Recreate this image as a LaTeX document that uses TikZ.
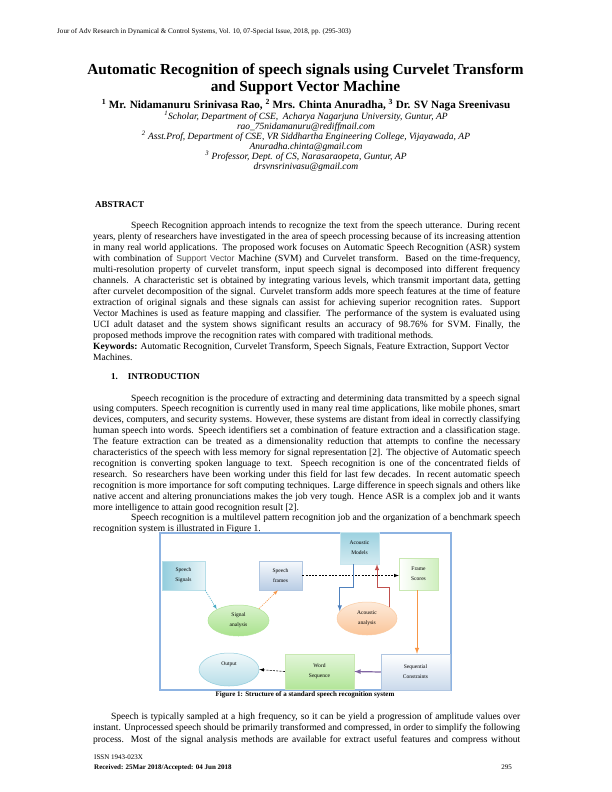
\documentclass[tikz,border=0pt]{standalone}
\usepackage{fontspec}
\setmainfont{Liberation Serif}
\newfontfamily\sansfam{Liberation Sans}
\usetikzlibrary{positioning, arrows, shapes.geometric, calc}

\definecolor{framecol}{HTML}{8DB3E2}
\definecolor{tealline}{HTML}{4BACC6}
\definecolor{orangeline}{HTML}{F79646}
\definecolor{blueline}{HTML}{4F81BD}
\definecolor{redline}{HTML}{C0504D}
\definecolor{purpleline}{HTML}{8064A2}

\newcommand\bodyfont{\fontsize{9.5}{11}\selectfont}
\newcommand\figfont{\fontsize{5.5}{10}\selectfont}
\newcommand\affilfont{\fontsize{9.5}{10}\selectfont\itshape}
\newcommand\justline[1]{\hbox to 427pt{#1}}
\newcommand\openline[1]{\hbox{#1}}

\tikzset{
  body/.style={anchor=base west, inner sep=0pt, font=\bodyfont},
  centred/.style={anchor=base, inner sep=0pt},
  flowbox/.style={rectangle, line width=0.5pt, align=center, font=\figfont, inner sep=1pt},
  flowoval/.style={ellipse, line width=0.5pt, align=center, font=\figfont, inner sep=0pt},
  dotflow/.style={dash pattern=on 1.2pt off 1pt, line width=0.6pt, -latex},
  dashflow/.style={dash pattern=on 2pt off 1.3pt, line width=0.6pt, -latex},
  solidflow/.style={line width=1pt, -latex}
}

\begin{document}
\begin{tikzpicture}[x=1pt, y=-1pt]
  \fill[white] (0,0) rectangle (612,792);
  \useasboundingbox (0,0) rectangle (612,792);

  % HEADER AND TITLE
  \node[anchor=base west, inner sep=0pt, font=\fontsize{7.1}{8}\selectfont] (journal) at (57,34)
    {Jour of Adv Research in Dynamical \& Control Systems, Vol. 10, 07-Special Issue, 2018, pp. (295-303)};
  \node[centred, font=\fontsize{15.3}{17}\selectfont\bfseries] (title1) at (305.5,74.5)
    {Automatic Recognition of speech signals using Curvelet Transform};
  \node[centred, font=\fontsize{15.3}{17}\selectfont\bfseries] (title2) at (305.5,91.5)
    {and Support Vector Machine};
  \node[centred, font=\fontsize{11.1}{12}\selectfont\bfseries] (authors) at (306,108.5)
    {\textsuperscript{1} Mr. Nidamanuru Srinivasa Rao, \textsuperscript{2} Mrs. Chinta Anuradha, \textsuperscript{3} Dr. SV Naga Sreenivasu};

  % AFFILIATIONS
  \node[centred, font=\affilfont] (affil1) at (306,119.5)
    {\textsuperscript{1}Scholar, Department of CSE,\ \ Acharya Nagarjuna University, Guntur, AP};
  \node[centred, font=\affilfont] (mail1) at (306,129.5)
    {rao\_75nidamanuru@rediffmail.com};
  \node[centred, font=\affilfont] (affil2) at (306,139.5)
    {\textsuperscript{2} Asst.Prof, Department of CSE, VR Siddhartha Engineering College, Vijayawada, AP};
  \node[centred, font=\affilfont] (mail2) at (306,149.5)
    {Anuradha.chinta@gmail.com};
  \node[centred, font=\affilfont] (affil3) at (306,159.5)
    {\textsuperscript{3} Professor, Dept. of CS, Narasaraopeta, Guntur, AP};
  \node[centred, font=\affilfont] (mail3) at (306,169.5)
    {drsvnsrinivasu@gmail.com};

  % ABSTRACT
  \node[body, font=\fontsize{9}{11}\selectfont\bfseries] (abshead) at (95,207) {ABSTRACT};
  \node[body] (abstract) at (93,228) {\vtop{%
    \justline{\hspace*{38pt}Speech Recognition approach intends to recognize the text from the speech utterance. During recent}
    \justline{years, plenty of researchers have investigated in the area of speech processing because of its increasing attention}
    \justline{in many real world applications. The proposed work focuses on Automatic Speech Recognition (ASR) system}
    \justline{with combination of {\color{black!70}\sansfam\fontsize{8.6}{11}\selectfont Support Vector} Machine (SVM) and Curvelet transform. Based on the time-frequency,}
    \justline{multi-resolution property of curvelet transform, input speech signal is decomposed into different frequency}
    \justline{channels. A characteristic set is obtained by integrating various levels, which transmit important data, getting}
    \justline{after curvelet decomposition of the signal. Curvelet transform adds more speech features at the time of feature}
    \justline{extraction of original signals and these signals can assist for achieving superior recognition rates. Support}
    \justline{Vector Machines is used as feature mapping and classifier. The performance of the system is evaluated using}
    \justline{UCI adult dataset and the system shows significant results an accuracy of 98.76\% for SVM. Finally, the}
    \openline{proposed methods improve the recognition rates with compared with traditional methods.}
    \openline{\textbf{Keywords:} Automatic Recognition, Curvelet Transform, Speech Signals, Feature Extraction, Support Vector}
    \openline{Machines.}}};

  % INTRODUCTION
  \node[body, font=\fontsize{9}{11}\selectfont\bfseries] (introhead) at (111,379)
    {1.\hspace{10pt}INTRODUCTION};
  \node[body] (intro) at (93,401) {\vtop{\baselineskip=10.9pt
    \justline{\hspace*{38pt}Speech recognition is the procedure of extracting and determining data transmitted by a speech signal}
    \justline{using computers. Speech recognition is currently used in many real time applications, like mobile phones, smart}
    \justline{devices, computers, and security systems. However, these systems are distant from ideal in correctly classifying}
    \justline{human speech into words. Speech identifiers set a combination of feature extraction and a classification stage.}
    \justline{The feature extraction can be treated as a dimensionality reduction that attempts to confine the necessary}
    \justline{characteristics of the speech with less memory for signal representation [2]. The objective of Automatic speech}
    \justline{recognition is converting spoken language to text. Speech recognition is one of the concentrated fields of}
    \justline{research. So researchers have been working under this field for last few decades. In recent automatic speech}
    \justline{recognition is more importance for soft computing techniques. Large difference in speech signals and others like}
    \justline{native accent and altering pronunciations makes the job very tough. Hence ASR is a complex job and it wants}
    \openline{more intelligence to attain good recognition result [2].}
    \justline{\hspace*{38pt}Speech recognition is a multilevel pattern recognition job and the organization of a benchmark speech}
    \openline{recognition system is illustrated in Figure 1.}}};

  % FIGURE 1
  \draw[framecol, line width=1.2pt] (160,533) rectangle (451,690);

  \node[flowbox, draw=tealline!40, minimum width=43pt, minimum height=29pt,
        left color=tealline!60, right color=tealline!12] (signals) at (183.5,575.5) {Speech\\Signals};
  \node[flowbox, draw=blueline!45, minimum width=43pt, minimum height=29pt,
        top color=blueline!5, bottom color=blueline!40] (frames) at (280.5,575.5) {Speech\\frames};
  \node[flowbox, draw=tealline!30, minimum width=39pt, minimum height=32pt,
        top color=tealline!55, bottom color=tealline!25] (models) at (359.5,548) {Acoustic\\Models};
  \node[flowbox, draw=green!40!olive!30, minimum width=39pt, minimum height=32pt,
        left color=white, right color=green!50!olive!25] (scores) at (418.5,574) {Frame\\Scores};
  \node[flowbox, draw=blueline!45, minimum width=69pt, minimum height=36pt,
        top color=white, bottom color=blueline!30] (seq) at (415.5,672) {Sequential\\Constraints};
  \node[flowbox, draw=green!40!olive!30, minimum width=69pt, minimum height=35pt,
        top color=green!50!olive!15, bottom color=green!50!olive!40] (word) at (319.5,671.5) {Word\\Sequence};

  \node[flowoval, draw=green!50!olive!40, minimum width=61pt, minimum height=31pt,
        top color=green!50!olive!20, bottom color=green!50!olive!45] (siga) at (238.5,620.5) {Signal\\analysis};
  \node[flowoval, draw=orangeline!50, minimum width=60pt, minimum height=33pt,
        top color=orangeline!20, bottom color=orangeline!55] (acoa) at (367,618.5) {Acoustic\\analysis};
  \node[flowoval, draw=tealline!60, minimum width=60pt, minimum height=33pt,
        top color=tealline!8, bottom color=tealline!40] (out) at (229,669.5) {Output\\[2pt]};

  \draw[dotflow, tealline] (signals.south east) -- (siga.north west);
  \draw[dotflow, orangeline] (siga.30) -- (frames.260);
  \draw[dashflow] (frames.east) -- (frames.east -| scores.west);
  \draw[solidflow, blueline] ([xshift=-6.5pt]models.south) -- ++(0,23) -| (acoa.165);
  \draw[solidflow, redline] (acoa.27) -- ++(0,-20) -| ([xshift=17.5pt]models.south);
  \draw[solidflow, orangeline] ($(scores.south)+(-1.5,0)$) -- ($(scores.south |- seq.north)+(-1.5,0)$);
  \draw[solidflow, purpleline, line width=1.2pt] (seq.west) -- (word.east);
  \draw[dashflow] (word.west) -- (out.east);

  \node[centred, font=\fontsize{7}{8}\selectfont\bfseries] (caption) at (305,696.5)
    {Figure 1: Structure of a standard speech recognition system};

  % CONTINUED TEXT
  \node[body] (sampling) at (93,719) {\vtop{\baselineskip=11.5pt
    \justline{\hspace*{18pt}Speech is typically sampled at a high frequency, so it can be yield a progression of amplitude values over}
    \justline{instant. Unprocessed speech should be primarily transformed and compressed, in order to simplify the following}
    \justline{process. Most of the signal analysis methods are available for extract useful features and compress without}}};

  % FOOTER
  \node[anchor=base west, inner sep=0pt, font=\fontsize{7}{8}\selectfont] (issn) at (94,759.5) {ISSN 1943-023X};
  \node[anchor=base west, inner sep=0pt, font=\fontsize{7}{8}\selectfont\bfseries] (received) at (94,769.5)
    {Received: 25Mar 2018/Accepted: 04 Jun 2018};
  \node[anchor=base east, inner sep=0pt, font=\fontsize{7}{8}\selectfont] (pagenum) at (512,769.5) {295};
\end{tikzpicture}
\end{document}
